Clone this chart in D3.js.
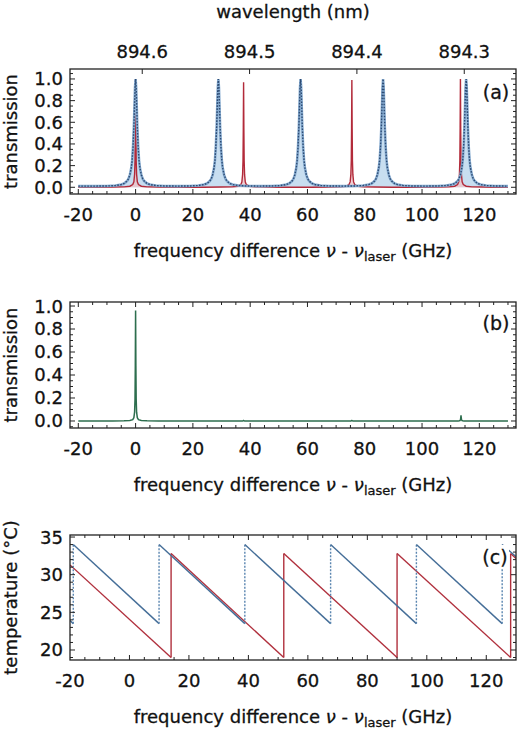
<!DOCTYPE html>
<html><head><meta charset="utf-8">
<script src="https://cdn.jsdelivr.net/npm/d3@7"></script>
<style>body{margin:0;background:#fff} text{font-family:"DejaVu Sans",sans-serif;fill:#111;stroke:#111;stroke-width:0.3px;}</style>
</head><body><svg id="chart" width="520" height="730"></svg>
<script>
// ---------- data ----------
const freqTicks = [-20, 0, 20, 40, 60, 80, 100, 120];
const transTicks = [0, 0.2, 0.4, 0.6, 0.8, 1.0];
const tempTicks = [20, 25, 30, 35];
const wavelengthTicks = [894.6, 894.5, 894.4, 894.3];
const laserWavelength = 894.6062; // nm
const spanStart = -20, spanEnd = 130;

// panel (a): broad etalon (blue) peaks
const bluePeakCenters = [0, 28.9, 57.6, 86.4, 115.4];
const bluePeakHeights = [1.0, 1.0, 1.0, 1.0, 1.0];
const blueProfileOffsets = [0, 0.2, 0.4, 0.6, 0.9, 1.2, 1.5, 2, 2.5, 3, 4, 5, 7, 10, 14];
const blueProfileValues = [1.0, 0.92, 0.74, 0.56, 0.37, 0.25, 0.18, 0.115, 0.078, 0.057, 0.035, 0.025, 0.016, 0.012, 0.011];

// panel (a): narrow etalon (red) peaks
const redPeakCenters = [0, 37.7, 75.5, 113.4];
const redPeakHeights = [1.0, 0.97, 0.99, 1.0];
const narrowProfileOffsets = [0, 0.1, 0.2, 0.35, 0.6, 1, 2, 4, 8, 14];
const redProfileValues = [1.0, 0.55, 0.25, 0.12, 0.05, 0.025, 0.01, 0.004, 0.002, 0.001];

// panel (b): combined transmission (green)
const greenPeakCenters = [0, 37.7, 75.5, 113.6];
const greenPeakHeights = [0.96, 0.004, 0.004, 0.05];
const greenProfileValues = [1.0, 0.5, 0.2, 0.08, 0.03, 0.012, 0.004, 0.0015, 0.0008, 0.0005];

// panel (c): temperatures (sawtooth), x in GHz, y in °C
const blueTempX = [-20, -18.9, -18.9, 9.95, 9.95, 38.8, 38.8, 67.65, 67.65, 96.5, 96.5, 125.35, 125.35, 130];
const blueTempY = [23.9, 23.5, 34.0, 23.5, 34.0, 23.5, 34.0, 23.5, 34.0, 23.5, 34.0, 23.5, 34.0, 32.4];
const redTempX = [-20, 14.0, 14.0, 51.9, 51.9, 90.0, 90.0, 128.2, 128.2, 130];
const redTempY = [31.3, 19.0, 32.8, 19.0, 32.8, 19.0, 32.8, 19.0, 32.8, 32.15];

// ---------- helpers ----------
function buildSeries(centers, heights, offsets, values) {
  const pts = [];
  centers.forEach((c, i) => {
    for (let k = offsets.length - 1; k >= 1; k--) pts.push([c - offsets[k], heights[i] * values[k]]);
    pts.push([c, heights[i] * values[0]]);
    for (let k = 1; k < offsets.length; k++) pts.push([c + offsets[k], heights[i] * values[k]]);
  });
  const base = values[values.length - 1];
  let out = pts.filter(p => p[0] > spanStart && p[0] < spanEnd);
  out.push([spanStart, base], [spanEnd, base]);
  out.sort((a, b) => a[0] - b[0]);
  return out;
}

const svg = d3.select("#chart");
const FONT = 18;
const C = 2.99792458e8; // nm*GHz
const dnu = lam => C / lam - C / laserWavelength;

function frame(p) {
  svg.append("rect").attr("x", p.x0).attr("y", p.y0)
    .attr("width", p.x1 - p.x0).attr("height", p.y1 - p.y0)
    .attr("fill", "none").attr("stroke", "#222").attr("stroke-width", 1.3);
}
function range(a, b, s) { const r = []; for (let v = a; v <= b + 1e-9; v += s) r.push(+v.toFixed(6)); return r; }

function ticksX(p, x, vals, len, top, bottom) {
  const g = svg.append("g").attr("stroke", "#222").attr("stroke-width", 1);
  vals.forEach(v => {
    const px = x(v);
    if (px < p.x0 + 0.5 || px > p.x1 - 0.5) return;
    if (bottom) g.append("line").attr("x1", px).attr("x2", px).attr("y1", p.y1).attr("y2", p.y1 - len);
    if (top) g.append("line").attr("x1", px).attr("x2", px).attr("y1", p.y0).attr("y2", p.y0 + len);
  });
}
function ticksY(p, y, vals, len) {
  const g = svg.append("g").attr("stroke", "#222").attr("stroke-width", 1);
  vals.forEach(v => {
    const py = y(v);
    if (py < p.y0 + 0.5 || py > p.y1 - 0.5) return;
    g.append("line").attr("x1", p.x0).attr("x2", p.x0 + len).attr("y1", py).attr("y2", py);
    g.append("line").attr("x1", p.x1).attr("x2", p.x1 - len).attr("y1", py).attr("y2", py);
  });
}
function xLabels(p, x, vals) {
  vals.forEach(v => svg.append("text").attr("x", x(v)).attr("y", p.y1 + 21).attr("dy", "0.36em")
    .attr("text-anchor", "middle").attr("font-size", FONT).text(String(v)));
}
function yLabels(p, y, vals, fmt) {
  vals.forEach(v => svg.append("text").attr("x", p.x0 - 7).attr("y", y(v)).attr("dy", "0.36em")
    .attr("text-anchor", "end").attr("font-size", FONT).text(fmt(v)));
}
function xTitle(p) {
  const t = svg.append("text").attr("x", (p.x0 + p.x1) / 2).attr("y", p.y1 + 63)
    .attr("text-anchor", "middle").attr("font-size", FONT);
  t.append("tspan").text("frequency difference ");
  t.append("tspan").attr("font-style", "italic").text("ν");
  t.append("tspan").text(" - ");
  t.append("tspan").attr("font-style", "italic").text("ν");
  t.append("tspan").attr("font-size", 13).attr("dy", 4).text("laser");
  t.append("tspan").attr("dy", -4).text(" (GHz)");
}
function yTitle(p, txt) {
  svg.append("text").attr("transform", `translate(17,${(p.y0 + p.y1) / 2}) rotate(-90)`)
    .attr("text-anchor", "middle").attr("font-size", FONT).text(txt);
}
function panelLabel(p, txt, cx, cy) {
  svg.append("rect").attr("x", cx - 14).attr("y", cy - 12).attr("width", 28).attr("height", 24).attr("fill", "#fff");
  svg.append("text").attr("x", cx).attr("y", cy).attr("dy", "0.36em").attr("text-anchor", "middle")
    .attr("font-size", 19).text(txt);
}
function clip(id, p) {
  svg.append("clipPath").attr("id", id).append("rect")
    .attr("x", p.x0).attr("y", p.y0).attr("width", p.x1 - p.x0).attr("height", p.y1 - p.y0);
}

// ---------- panel (a) ----------
const pa = { x0: 70, x1: 516, y0: 69, y1: 194 };
const xa = d3.scaleLinear().domain([-22.9, 132.8]).range([pa.x0, pa.x1]);
const ya = d3.scaleLinear().domain([-0.062, 1.092]).range([pa.y1, pa.y0]);
clip("ca", pa);
const blueSeries = buildSeries(bluePeakCenters, bluePeakHeights, blueProfileOffsets, blueProfileValues);
const redSeries = buildSeries(redPeakCenters, redPeakHeights, narrowProfileOffsets, redProfileValues);
const ga = svg.append("g").attr("clip-path", "url(#ca)");
const areaA = d3.area().x(d => xa(d[0])).y0(ya(0)).y1(d => ya(d[1]));
const lineA = d3.line().x(d => xa(d[0])).y(d => ya(d[1]));
ga.append("path").datum(blueSeries).attr("d", areaA).attr("fill", "#c8def0");
ga.append("path").datum(redSeries).attr("d", areaA).attr("fill", "#eec3c8").attr("opacity", 0.8);
ga.append("path").datum(redSeries).attr("d", lineA).attr("fill", "none").attr("stroke", "#b22a3a").attr("stroke-width", 1.4);
ga.append("path").datum(blueSeries).attr("d", lineA).attr("fill", "none").attr("stroke", "#86abd0").attr("stroke-width", 2.6);
ga.append("path").datum(blueSeries).attr("d", lineA).attr("fill", "none").attr("stroke", "#2d4b73")
  .attr("stroke-width", 1.4).attr("stroke-dasharray", "1.6,1.4");
frame(pa);
ticksX(pa, xa, freqTicks, 5, false, true);
ticksX(pa, xa, range(-20, 130, 5).filter(v => !freqTicks.includes(v)), 3, false, true);
ticksY(pa, ya, transTicks, 5);
ticksY(pa, ya, range(-0.05, 1.05, 0.05).filter(v => !transTicks.some(t => Math.abs(t - v) < 1e-6)), 3);
// top wavelength axis
wavelengthTicks.forEach(l => {
  const px = xa(dnu(l));
  svg.append("line").attr("x1", px).attr("x2", px).attr("y1", pa.y0).attr("y2", pa.y0 + 5)
    .attr("stroke", "#222").attr("stroke-width", 1);
  svg.append("text").attr("x", px).attr("y", pa.y0 - 17).attr("dy", "0.36em").attr("text-anchor", "middle")
    .attr("font-size", FONT).text(l.toFixed(1));
});
svg.append("text").attr("x", (pa.x0 + pa.x1) / 2).attr("y", 18).attr("text-anchor", "middle")
  .attr("font-size", FONT).text("wavelength (nm)");
xLabels(pa, xa, freqTicks);
yLabels(pa, ya, transTicks, d3.format(".1f"));
xTitle(pa);
yTitle(pa, "transmission");
panelLabel(pa, "(a)", 496, 92);

// ---------- panel (b) ----------
const pb = { x0: 70, x1: 516, y0: 302, y1: 428 };
const xb = d3.scaleLinear().domain([-22.9, 132.8]).range([pb.x0, pb.x1]);
const yb = d3.scaleLinear().domain([-0.061, 1.035]).range([pb.y1, pb.y0]);
clip("cb", pb);
const greenSeries = buildSeries(greenPeakCenters, greenPeakHeights, narrowProfileOffsets, greenProfileValues);
svg.append("g").attr("clip-path", "url(#cb)").append("path").datum(greenSeries)
  .attr("d", d3.line().x(d => xb(d[0])).y(d => yb(d[1])))
  .attr("fill", "none").attr("stroke", "#2d6e4e").attr("stroke-width", 1.5);
frame(pb);
ticksX(pb, xb, freqTicks, 5, true, true);
ticksX(pb, xb, range(-20, 130, 5).filter(v => !freqTicks.includes(v)), 3, true, true);
ticksY(pb, yb, transTicks, 5);
ticksY(pb, yb, range(-0.05, 1.0, 0.05).filter(v => !transTicks.some(t => Math.abs(t - v) < 1e-6)), 3);
xLabels(pb, xb, freqTicks);
yLabels(pb, yb, transTicks, d3.format(".1f"));
xTitle(pb);
yTitle(pb, "transmission");
panelLabel(pb, "(b)", 496, 323);

// ---------- panel (c) ----------
const pc = { x0: 70, x1: 516, y0: 535, y1: 660 };
const xc = d3.scaleLinear().domain([-20, 130]).range([pc.x0, pc.x1]);
const yc = d3.scaleLinear().domain([18.67, 35.27]).range([pc.y1, pc.y0]);
clip("cc", pc);
const gc = svg.append("g").attr("clip-path", "url(#cc)");
const lineC = d3.line().x(d => xc(d[0])).y(d => yc(d[1]));
function drawSaw(xs, ys, color, jumpDash, jumpColor) {
  for (let i = 0; i < xs.length - 1; i++) {
    const seg = [[xs[i], ys[i]], [xs[i + 1], ys[i + 1]]];
    const vertical = xs[i] === xs[i + 1];
    const path = gc.append("path").datum(seg).attr("d", lineC).attr("fill", "none")
      .attr("stroke", vertical && jumpColor ? jumpColor : color).attr("stroke-width", 1.4);
    if (vertical && jumpDash) path.attr("stroke-dasharray", jumpDash);
  }
}
drawSaw(redTempX, redTempY, "#b0303d", null, null);
drawSaw(blueTempX, blueTempY, "#456e98", "2,1.5", "#5a85b0");
frame(pc);
ticksX(pc, xc, freqTicks, 5, true, true);
ticksX(pc, xc, range(-20, 130, 5).filter(v => !freqTicks.includes(v)), 3, true, true);
ticksY(pc, yc, tempTicks, 5);
ticksY(pc, yc, range(19, 35, 1).filter(v => !tempTicks.includes(v)), 3);
xLabels(pc, xc, freqTicks);
yLabels(pc, yc, tempTicks, d3.format("d"));
xTitle(pc);
yTitle(pc, "temperature (°C)");
panelLabel(pc, "(c)", 495, 557);
</script></body></html>
